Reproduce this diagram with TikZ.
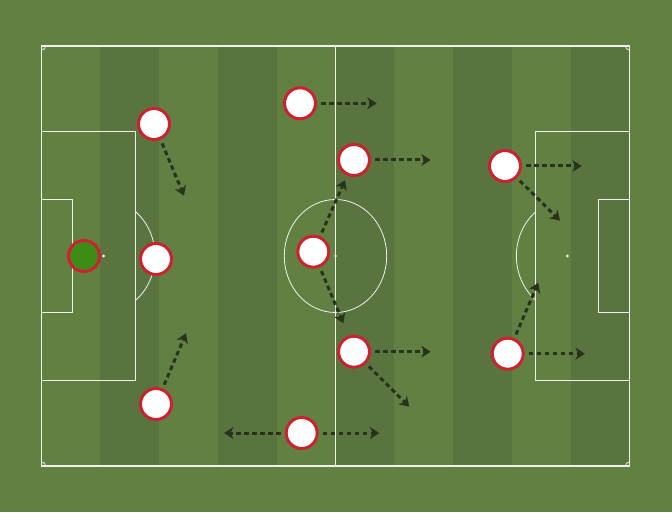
\documentclass[tikz,border=0pt]{standalone}
\usetikzlibrary{arrows.meta,shadows}
\definecolor{grass}{HTML}{638043}
\definecolor{grassdark}{HTML}{59743E}
\definecolor{shirt}{HTML}{CC2230}
\definecolor{keeper}{HTML}{3D8C18}
\definecolor{run}{HTML}{26331D}
\tikzset{
	player/.style={circle, draw=shirt, line width=3pt, fill=white, minimum size=31pt, inner sep=0pt,
		drop shadow={shadow xshift=0.8pt, shadow yshift=-1pt, opacity=0.35}},
	goalie/.style={player, fill=keeper},
	runarrow/.style={draw=run, line width=3pt, dash pattern=on 4.6pt off 3.4pt,
		-{Stealth[length=9.5pt,width=12pt,inset=3pt]}, shorten <=4pt},
	marking/.style={draw=white, line width=0.8pt, opacity=0.9}
}
\begin{document}
\begin{tikzpicture}[x=1pt,y=1pt]
			\fill[grass] (0,0) rectangle (672,512);
			\useasboundingbox (0,0) rectangle (672,512);
			% stripes
			\foreach \i in {1,3,5,7,9} \fill[grassdark] (41.7+\i*58.76,46) rectangle ++(58.76,420);
			% markings
			\draw[marking, line width=1.2pt] (41.7,46) rectangle (629.3,466);
			\draw[marking] (335.5,46) -- (335.5,466);
			\draw[marking] (335.5,256) ellipse [x radius=51.2, y radius=56.5];
			\fill[white] (335.5,256) circle (1.3);
			\draw[marking] (41.7,131.5) rectangle (135.7,380.5);
			\draw[marking] (41.7,199.5) rectangle (72.8,312.5);
			\fill[white] (103.7,256) circle (1.5);
			\draw[marking] (135.7,211.8) arc[start angle=-51.5, end angle=51.5, x radius=51.2, y radius=56.5];
			\draw[marking] (535.7,131.5) rectangle (629.3,380.5);
			\draw[marking] (598.3,199.5) rectangle (629.3,312.5);
			\fill[white] (567.3,256) circle (1.5);
			\draw[marking] (535.7,300.2) arc[start angle=128.5, end angle=231.5, x radius=51.2, y radius=56.5];
			\draw[marking] (41.7,50) arc[start angle=90, end angle=0, radius=4];
			\draw[marking] (41.7,462) arc[start angle=-90, end angle=0, radius=4];
			\draw[marking] (629.3,50) arc[start angle=90, end angle=180, radius=4];
			\draw[marking] (629.3,462) arc[start angle=270, end angle=180, radius=4];
			% players
			\node[goalie] (gk) at (84,256) {};
			\node[player] (lb) at (154,388) {};
			\node[player] (cb) at (156,253) {};
			\node[player] (rb) at (156,108) {};
			\node[player] (lm) at (300,408.7) {};
			\node[player] (cm) at (313.3,260.3) {};
			\node[player] (rm) at (301.7,79) {};
			\node[player] (lam) at (354,352) {};
			\node[player] (ram) at (354,160.3) {};
			\node[player] (lf) at (505,346) {};
			\node[player] (rf) at (507.7,158.3) {};
			% runs
			\coordinate (lbrun) at (184,316.3);
			\coordinate (rbrun) at (186,178.7);
			\coordinate (lmrun) at (376.7,408.7);
			\coordinate (cmrun) at (343.3,188.7);
			\coordinate (rmback) at (224,79);
			\coordinate (rmrun) at (379.3,79);
			\coordinate (lamrun) at (430.7,352);
			\coordinate (ramrun) at (430.7,160.3);
			\coordinate (ramcut) at (409.3,105.3);
			\coordinate (lfrun) at (581.7,346);
			\coordinate (lfcut) at (560,291.3);
			\coordinate (rfrun) at (585,158.3);
			\coordinate (rfcut) at (538.3,229.3);
			\draw[runarrow] (lb) -- (lbrun);
			\draw[runarrow] (rb) -- (rbrun);
			\draw[runarrow] (lm) -- (lmrun);
			\draw[runarrow, shorten >=5pt] (cm) -- (lam);
			\draw[runarrow] (cm) -- (cmrun);
			\draw[runarrow] (rm) -- (rmback);
			\draw[runarrow] (rm) -- (rmrun);
			\draw[runarrow] (lam) -- (lamrun);
			\draw[runarrow] (ram) -- (ramrun);
			\draw[runarrow] (ram) -- (ramcut);
			\draw[runarrow] (lf) -- (lfrun);
			\draw[runarrow] (lf) -- (lfcut);
			\draw[runarrow] (rf) -- (rfrun);
			\draw[runarrow] (rf) -- (rfcut);
\end{tikzpicture}
\end{document}
